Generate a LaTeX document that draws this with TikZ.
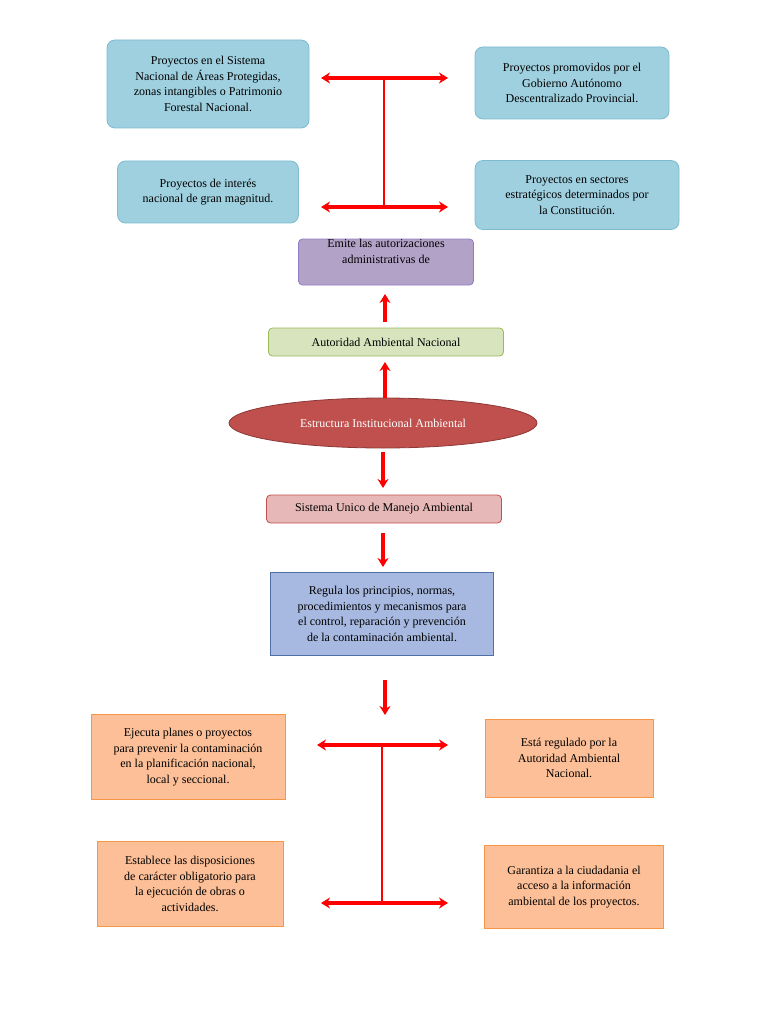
\documentclass[tikz,border=0pt]{standalone}
\usepackage{fontspec}
\setmainfont{Liberation Serif}
\usetikzlibrary{arrows.meta,shapes.geometric}
\definecolor{bluef}{HTML}{9FD0E0}\definecolor{blued}{HTML}{7DBBD0}
\definecolor{purf}{HTML}{B3A2C7}\definecolor{purd}{HTML}{8E7CC3}
\definecolor{grnf}{HTML}{D7E4BD}\definecolor{grnd}{HTML}{9BBB59}
\definecolor{redf}{HTML}{C0504D}\definecolor{redd}{HTML}{8C3836}
\definecolor{pinkf}{HTML}{E6B9B8}\definecolor{pinkd}{HTML}{C0504D}
\definecolor{bl2f}{HTML}{A7B9E1}\definecolor{bl2d}{HTML}{4F6FA8}
\definecolor{orf}{HTML}{FCBF97}\definecolor{ord}{HTML}{F79646}
\begin{document}
\begin{tikzpicture}[x=1pt,y=-1pt,
  box/.style={draw,line width=0.8pt,align=center,inner sep=0pt,font=\fontsize{12}{15.5}\selectfont},
  rbox/.style={box,rounded corners=8pt},
  arr/.style={red,line width=3.5pt,-{Stealth[length=9pt,width=11pt]}},
  darr/.style={red,line width=3.5pt,{Stealth[length=9pt,width=11pt]}-{Stealth[length=9pt,width=11pt]}},
  ln/.style={red,line width=2pt}]
\useasboundingbox (0,0) rectangle (768,1024);
\node[rbox,fill=bluef,draw=blued,minimum width=202pt,minimum height=88pt] (a) at (208,84) {Proyectos en el Sistema\\Nacional de Áreas Protegidas,\\zonas intangibles o Patrimonio\\Forestal Nacional.};
\node[rbox,fill=bluef,draw=blued,minimum width=194pt,minimum height=72pt] (b) at (572,83) {Proyectos promovidos por el\\Gobierno Autónomo\\Descentralizado Provincial.};
\node[rbox,fill=bluef,draw=blued,minimum width=181pt,minimum height=62pt] (c) at (208,192) {Proyectos de interés\\nacional de gran magnitud.};
\node[rbox,fill=bluef,draw=blued,minimum width=204pt,minimum height=69pt] (d) at (577,195) {Proyectos en sectores\\estratégicos determinados por\\la Constitución.};
\node[rbox,rounded corners=4pt,fill=purf,draw=purd,minimum width=175pt,minimum height=46pt] (e) at (386,262) {Emite las autorizaciones\\administrativas de\\[6pt]};
\node[rbox,rounded corners=4pt,fill=grnf,draw=grnd,minimum width=235pt,minimum height=28pt] (f) at (386,342) {Autoridad Ambiental Nacional};
\node[box,ellipse,fill=redf,draw=redd,text=white,minimum width=308pt,minimum height=50pt] (g) at (383,423) {Estructura Institucional Ambiental};
\node[rbox,rounded corners=4pt,fill=pinkf,draw=pinkd,minimum width=235pt,minimum height=28pt] (h) at (384,509) {Sistema Unico de Manejo Ambiental};
\node[box,fill=bl2f,draw=bl2d,minimum width=223pt,minimum height=83pt] (i) at (382,614) {Regula los principios, normas,\\procedimientos y mecanismos para\\el control, reparación y prevención\\de la contaminación ambiental.};
\node[box,fill=orf,draw=ord,minimum width=194pt,minimum height=85pt] (j) at (188,757) {Ejecuta planes o proyectos\\para prevenir la contaminación\\en la planificación nacional,\\local y seccional.};
\node[box,fill=orf,draw=ord,minimum width=168pt,minimum height=78pt] (k) at (569,758) {Está regulado por la\\Autoridad Ambiental\\Nacional.};
\node[box,fill=orf,draw=ord,minimum width=186pt,minimum height=85pt] (l) at (190,884) {Establece las disposiciones\\de carácter obligatorio para\\la ejecución de obras o\\actividades.};
\node[box,fill=orf,draw=ord,minimum width=179pt,minimum height=83pt] (m) at (574,887) {Garantiza a la ciudadania el\\acceso a la información\\ambiental de los proyectos.};
% top connectors
\coordinate (t1l) at (321,78); \coordinate (t1r) at (448,78);
\coordinate (t2l) at (321,207); \coordinate (t2r) at (448,207);
\coordinate (t1m) at (384,78); \coordinate (t2m) at (384,207);
\draw[darr] (t1l) -- (t1r); \draw[darr] (t2l) -- (t2r); \draw[ln] (t1m) -- (t2m);
% vertical chain
\coordinate (u1) at (385,322); \coordinate (u1e) at (385,294);
\coordinate (u2) at (385,398); \coordinate (u2e) at (385,362);
\coordinate (d1) at (383,452); \coordinate (d1e) at (383,488);
\coordinate (d2) at (383,533); \coordinate (d2e) at (383,567);
\coordinate (d3) at (385,680); \coordinate (d3e) at (385,715);
\draw[arr] (u1) -- (u1e); \draw[arr] (u2) -- (u2e);
\draw[arr] (d1) -- (d1e); \draw[arr] (d2) -- (d2e); \draw[arr] (d3) -- (d3e);
% bottom connectors
\coordinate (b1l) at (317,745); \coordinate (b1r) at (448,745);
\coordinate (b2l) at (321,903); \coordinate (b2r) at (448,903);
\coordinate (b1m) at (382,745); \coordinate (b2m) at (382,903);
\draw[darr] (b1l) -- (b1r); \draw[darr] (b2l) -- (b2r); \draw[ln] (b1m) -- (b2m);
\end{tikzpicture}
\end{document}
